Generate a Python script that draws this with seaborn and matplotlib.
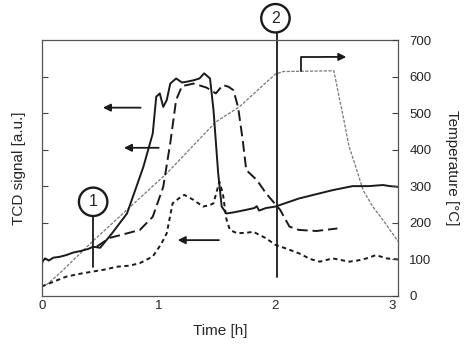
import matplotlib
matplotlib.use("Agg")
import matplotlib.pyplot as plt
import seaborn as sns

sns.set_style("white")
plt.rcParams['font.family'] = ['Liberation Sans', 'DejaVu Sans']

# ---- data ----
# Temperature [°C] vs time [h]
temp_t = [0.0, 0.0, 0.05, 0.15, 0.44, 1.07, 1.49, 1.69, 2.0, 2.07, 2.5, 2.55, 2.58, 2.63, 2.68,
          2.75, 2.83, 2.92, 3.05]
temp_v = [0, 25, 32, 60, 150, 335, 476, 517, 607, 614, 616, 536, 490, 408, 360,
          289, 245, 207, 148]

# TCD signal (solid)
tcd1_t = [0.0, 0.01, 0.03, 0.06, 0.1, 0.15, 0.21, 0.27, 0.33, 0.4, 0.44, 0.5, 0.6, 0.73, 0.81, 0.87, 0.95,
          0.98, 1.01, 1.04, 1.07, 1.1, 1.15, 1.2, 1.24, 1.3, 1.35, 1.39, 1.44, 1.47, 1.51, 1.54, 1.58,
          1.64, 1.75, 1.82, 1.84, 1.86, 1.92, 2.0, 2.1, 2.2, 2.35, 2.49, 2.66, 2.8, 2.92, 2.98, 3.05]
tcd1_v = [84, 95, 102, 96, 104, 106, 111, 118, 122, 128, 134, 131, 170, 225, 298, 353, 444,
          545, 554, 517, 536, 581, 595, 584, 586, 590, 595, 609, 595, 508, 335, 244, 225,
          228, 235, 240, 245, 233, 240, 244, 255, 266, 278, 289, 300, 300, 303, 300, 298]

# TCD signal (long dashes)
tcd2_t = [0.47, 0.58, 0.7, 0.84, 0.95, 1.04, 1.1, 1.15, 1.2, 1.3, 1.41, 1.49, 1.55, 1.6, 1.64, 1.68,
          1.72, 1.75, 1.84, 1.92, 2.04, 2.12, 2.2, 2.35, 2.53]
tcd2_v = [134, 158, 168, 180, 216, 298, 418, 536, 574, 581, 570, 554, 577, 572, 563, 517,
          426, 344, 317, 280, 235, 189, 180, 177, 184]

# TCD signal (short dashes)
tcd3_t = [0.0, 0.1, 0.21, 0.33, 0.44, 0.55, 0.64, 0.75, 0.84, 0.95, 1.02, 1.07, 1.12, 1.18, 1.22, 1.3,
          1.38, 1.44, 1.47, 1.52, 1.55, 1.58, 1.61, 1.67, 1.75, 1.81, 1.92, 2.0, 2.1, 2.2, 2.3, 2.38,
          2.49, 2.63, 2.7, 2.78, 2.86, 2.95, 3.05]
tcd3_v = [25, 38, 52, 60, 66, 72, 79, 82, 89, 107, 140, 171, 253, 268, 276, 262,
          244, 248, 253, 312, 280, 210, 180, 171, 172, 175, 157, 139, 128, 116, 100, 93,
          102, 93, 96, 102, 111, 102, 99]

xticks = [0, 1, 2, 3]
yticks = [0, 100, 200, 300, 400, 500, 600, 700]

# ---- figure ----
fig = plt.figure(figsize=(4.74, 3.49), dpi=100)
ax = fig.add_axes([0.088, 0.153, 0.752, 0.732])

ink = '#1a1a1a'
sns.lineplot(x=temp_t, y=temp_v, ax=ax, color='#777777', lw=0.9, sort=False, estimator=None)
ax.lines[-1].set_dashes([2.5, 1.2])
sns.lineplot(x=tcd1_t, y=tcd1_v, ax=ax, color=ink, lw=1.4, sort=False, estimator=None)
sns.lineplot(x=tcd2_t, y=tcd2_v, ax=ax, color=ink, lw=1.4, sort=False, estimator=None)
ax.lines[-1].set_dashes([5.5, 2.5])
sns.lineplot(x=tcd3_t, y=tcd3_v, ax=ax, color=ink, lw=1.4, sort=False, estimator=None)
ax.lines[-1].set_dashes([2.2, 1.8])

ax.set_xlim(0, 3.05)
ax.set_ylim(0, 700)
ax.set_xticks(xticks)
ax.set_xticklabels([str(v) for v in xticks], fontsize=9.5)
ax.set_yticks(yticks[1:-1])
ax.set_yticklabels([])
ax.tick_params(direction='in', length=4, width=0.8, color='#444444')
ax.tick_params(axis='x', pad=3)
for s in ax.spines.values():
    s.set_color('#555555')
    s.set_linewidth(0.9)

ax2 = ax.twinx()
ax2.set_ylim(0, 700)
ax2.set_yticks(yticks)
ax2.set_yticklabels([str(v) for v in yticks], fontsize=9.5)
ax2.tick_params(direction='in', length=4, width=0.8, color='#444444', pad=8)
for s in ax2.spines.values():
    s.set_visible(False)

ax.set_xlabel('Time [h]', fontsize=11, labelpad=9)
ax.set_ylabel('TCD signal [a.u.]', fontsize=11, labelpad=8)
ax2.set_ylabel('Temperature [°C]', fontsize=11, rotation=270, labelpad=20)

# ---- annotations ----
arrow_kw = dict(arrowstyle='-|>', color=ink, lw=1.3, mutation_scale=11)
ax.annotate('', xy=(0.5, 515), xytext=(0.87, 515), arrowprops=arrow_kw)
ax.annotate('', xy=(0.68, 405), xytext=(1.025, 405), arrowprops=arrow_kw)
ax.annotate('', xy=(1.14, 152), xytext=(1.54, 152), arrowprops=arrow_kw)
ax.plot([2.22, 2.22, 2.4], [616, 654, 654], color=ink, lw=1.3)
ax.annotate('', xy=(2.63, 654), xytext=(2.38, 654), arrowprops=arrow_kw)

# marker 1
ax.plot([0.44, 0.44], [79, 218], color=ink, lw=1.3)
ax.text(0.44, 257, '1', ha='center', va='center', fontsize=11.5,
        bbox=dict(boxstyle='circle,pad=0.42', fc='white', ec=ink, lw=1.7))
# marker 2
ax.plot([2.01, 2.01], [52, 740], color=ink, lw=1.3, clip_on=False)
ax.text(2.0, 760, '2', ha='center', va='center', fontsize=11.5, clip_on=False,
        bbox=dict(boxstyle='circle,pad=0.42', fc='white', ec=ink, lw=1.7))

fig.savefig('out.png', dpi=100)
